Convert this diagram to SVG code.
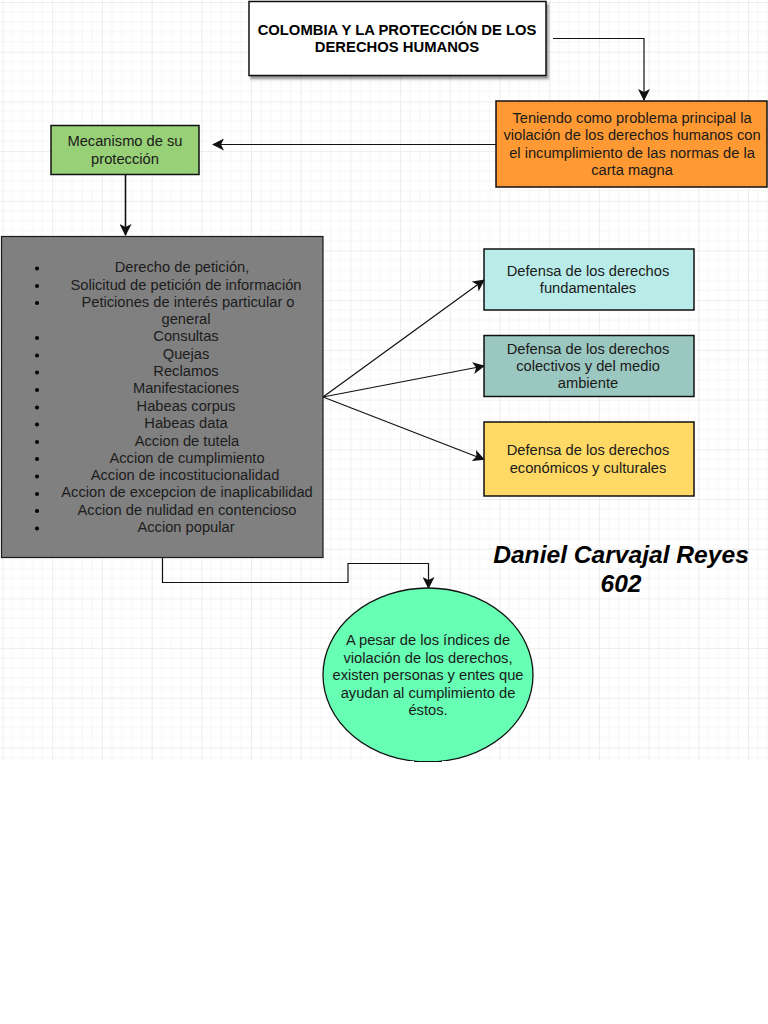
<svg xmlns="http://www.w3.org/2000/svg" width="768" height="1024" viewBox="0 0 768 1024">
<style>
text{font-family:"Liberation Sans",Arial,sans-serif;font-size:14.7px;fill:#1a1a1a;text-anchor:middle}
.b{stroke:#111;stroke-width:1.5}
.c{fill:none;stroke:#111;stroke-width:1.2}
.t{font-weight:bold;fill:#000;font-size:14.8px}
.l{fill:#1c1c1c}
.n{font-size:24.6px;font-weight:bold;font-style:italic;fill:#000}
</style>
<defs>
<pattern id="grid" x="2.5" y="2" width="49.7" height="49.7" patternUnits="userSpaceOnUse">
<path d="M9.94 0V49.7M19.88 0V49.7M29.82 0V49.7M39.76 0V49.7M0 9.94H49.7M0 19.88H49.7M0 29.82H49.7M0 39.76H49.7" stroke="#f2f2f2" stroke-width="0.8" fill="none"/>
<path d="M0 0V49.7M0 0H49.7" stroke="#e8e8e8" stroke-width="1.5" fill="none"/>
</pattern>
<marker id="a" viewBox="0 0 12 12" refX="11" refY="6" markerWidth="12" markerHeight="12" markerUnits="userSpaceOnUse" orient="auto"><path d="M0 0L12 6L0 12L3 6Z" fill="#111"/></marker>
<filter id="s" x="-5%" y="-10%" width="110%" height="120%"><feDropShadow dx="2" dy="3" stdDeviation="1" flood-color="#000" flood-opacity="0.4"/></filter>
</defs>
<rect width="768" height="1024" fill="#fff"/>
<rect id="background-grid" width="768" height="761" fill="url(#grid)"/>
<g id="connectors">
<path class="c" d="M553 38.500H644V100" marker-end="url(#a)"/>
<path class="c" d="M496 144.500H213" marker-end="url(#a)"/>
<path class="c" style="stroke-width:1.600" d="M125.500 175V235" marker-end="url(#a)"/>
<path class="c" d="M323 397L484 280" marker-end="url(#a)"/>
<path class="c" d="M323 397L484 366" marker-end="url(#a)"/>
<path class="c" d="M323 397L484 459.500" marker-end="url(#a)"/>
<path class="c" d="M162.500 557V582.500H348V563.500H428.500V588" marker-end="url(#a)"/>
</g>
<g id="n-title">
<rect class="b" x="249" y="1.500" width="297" height="74" fill="#fff" filter="url(#s)"/>
<text class="t" x="397" y="35">COLOMBIA Y LA PROTECCIÓN DE LOS</text>
<text class="t" x="397" y="52">DERECHOS HUMANOS</text>
</g>
<g id="n-problem">
<rect class="b" x="496" y="101" width="271" height="86" fill="#ff9933"/>
<text x="632" y="123">Teniendo como problema principal la</text>
<text x="632" y="140">violación de los derechos humanos con</text>
<text x="632" y="158">el incumplimiento de las normas de la</text>
<text x="632" y="175">carta magna</text>
</g>
<g id="n-mecanismo">
<rect class="b" x="51" y="125.500" width="148" height="49" fill="#97d077"/>
<text x="125" y="146">Mecanismo de su</text>
<text x="125" y="164">protección</text>
</g>
<g id="n-lista">
<rect x="1.500" y="236.500" width="321.500" height="321" fill="#808080" stroke="#1a1a1a" stroke-width="1.200"/>
<g fill="#000"><circle cx="37" cy="268.500" r="2"/><circle cx="37" cy="286" r="2"/><circle cx="37" cy="303" r="2"/><circle cx="37" cy="338" r="2"/><circle cx="37" cy="355.500" r="2"/><circle cx="37" cy="372.500" r="2"/><circle cx="37" cy="390" r="2"/><circle cx="37" cy="407.500" r="2"/><circle cx="37" cy="424.500" r="2"/><circle cx="37" cy="442" r="2"/><circle cx="37" cy="459" r="2"/><circle cx="37" cy="476.500" r="2"/><circle cx="37" cy="494" r="2"/><circle cx="37" cy="511" r="2"/><circle cx="37" cy="528.500" r="2"/></g>
<g class="l">
<text class="l" x="182" y="272">Derecho de petición,</text>
<text class="l" x="186" y="290">Solicitud de petición de información</text>
<text class="l" x="188" y="307">Peticiones de interés particular o</text>
<text class="l" x="186" y="324">general</text>
<text class="l" x="186" y="341">Consultas</text>
<text class="l" x="186" y="359">Quejas</text>
<text class="l" x="186" y="376">Reclamos</text>
<text class="l" x="186" y="393">Manifestaciones</text>
<text class="l" x="186" y="411">Habeas corpus</text>
<text class="l" x="186" y="428">Habeas data</text>
<text class="l" x="187" y="446">Accion de tutela</text>
<text class="l" x="187" y="463">Accion de cumplimiento</text>
<text class="l" x="185" y="480">Accion de incostitucionalidad</text>
<text class="l" x="187" y="497">Accion de excepcion de inaplicabilidad</text>
<text class="l" x="187" y="515">Accion de nulidad en contencioso</text>
<text class="l" x="186" y="532">Accion popular</text>
</g>
</g>
<g id="n-fundamentales">
<rect class="b" x="484" y="249" width="210" height="61" fill="#b9ebe9"/>
<text x="588" y="276">Defensa de los derechos</text>
<text x="588" y="293">fundamentales</text>
</g>
<g id="n-colectivos">
<rect class="b" x="484" y="335.500" width="210" height="61" fill="#9ac7bf"/>
<text x="588" y="354">Defensa de los derechos</text>
<text x="588" y="371">colectivos y del medio</text>
<text x="588" y="388">ambiente</text>
</g>
<g id="n-economicos">
<rect class="b" x="484" y="422" width="210" height="74" fill="#ffd966"/>
<text x="588" y="455">Defensa de los derechos</text>
<text x="588" y="473">económicos y culturales</text>
</g>
<g id="n-autor">
<text class="n" x="621" y="563">Daniel Carvajal Reyes</text>
<text class="n" x="621" y="592">602</text>
</g>
<g id="n-final">
<ellipse cx="428" cy="675" rx="105" ry="87" fill="#66ffb3" stroke="#111" stroke-width="1.300"/>
<text x="428" y="645">A pesar de los índices de</text>
<text x="428" y="663">violación de los derechos,</text>
<text x="428" y="680">existen personas y entes que</text>
<text x="428" y="698">ayudan al cumplimiento de</text>
<text x="428" y="715">éstos.</text>
</g>
<rect x="0" y="761" width="768" height="263" fill="#fff"/>
<path d="M414 761.500H442" stroke="#111" stroke-width="1"/>
</svg>
